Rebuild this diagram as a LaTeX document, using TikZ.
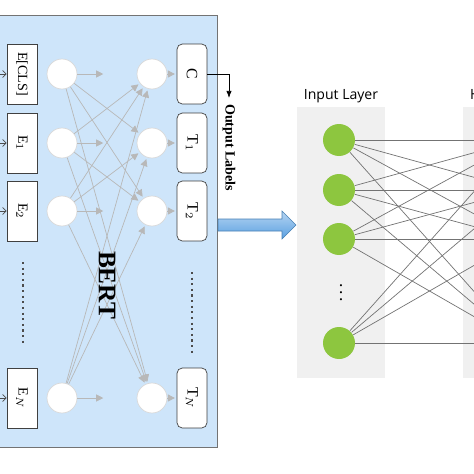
\documentclass[tikz,border=0pt]{standalone}
\usepackage{fontspec}
\setmainfont{Liberation Serif}
\setsansfont{Open Sans}
\usepackage{tikz}
\usetikzlibrary{positioning}
\usetikzlibrary{arrows.meta}
\definecolor{bertblue}{RGB}{206,229,250}
\definecolor{nngreen}{RGB}{141,198,63}
\definecolor{arrowblue}{RGB}{90,160,225}

\begin{document}
\begin{tikzpicture}[x=0.02cm,y=-0.02cm]
        \tikzstyle{token}=[draw=black!75,fill=white,rotate=-90,minimum width=1.2cm,minimum height=0.6cm,inner sep=0pt,font=\footnotesize]
        \tikzstyle{outbox}=[token,rounded corners=3pt,font=\small]
        \tikzstyle{cell}=[circle,draw=black!15,fill=white,minimum size=0.6cm,inner sep=0pt]
        \tikzstyle{green neuron}=[circle,fill=nngreen,minimum size=0.64cm,inner sep=0pt]
        \tikzstyle{light link}=[black!28,-{Triangle[length=4pt,width=4pt]},shorten >=1pt]
        \tikzstyle{net link}=[black!55,line width=0.4pt]
        \tikzstyle{annot}=[font=\sffamily\footnotesize]

        \useasboundingbox (0,0) rectangle (474,474);
        \clip (0,0) rectangle (474,474);

        % BERT panel
        \draw[fill=bertblue,draw=black!55] (-10,15) rectangle (217,447);

        % Draw the embeddings, the cells and the outputs
        \foreach \name / \y / \lab / \tlab in {1/74/{E[CLS]}/C, 2/143/{E$_1$}/{T$_1$}, 3/211/{E$_2$}/{T$_2$}, 4/398/{E$_N$}/{T$_N$}}
        {
            \node[token] (E-\name) at (22,\y) {\lab};
            \node[cell] (L-\name) at (62,\y) {};
            \node[cell] (R-\name) at (152,\y) {};
            \node[outbox] (T-\name) at (192,\y) {\tlab};
            \coordinate (In-\name) at (-4,\y);
            \coordinate (M-\name) at (105,\y);
        }

        \draw[black!70,dotted,very thick] (23,262) -- (23,346);
        \draw[black!70,dotted,very thick] (192,272) -- (192,356);

        % Connect every left cell with every right cell
        \foreach \source in {1,...,4}
            \foreach \dest in {1,...,4}
            {
                \ifnum\source=\dest
                    \draw[light link] (L-\source) -- (M-\dest);
                \else
                    \draw[light link] (L-\source) -- (R-\dest);
                \fi
            }

        \foreach \name in {1,...,4}
        {
            \draw[light link] (R-\name) -- (T-\name);
            \draw[black!70,-{Straight Barb[length=2pt]}] (In-\name) -- (E-\name);
        }

        \node[rotate=-90,font=\Large\bfseries] (bert) at (107,285) {BERT};

        % Output labels
        \node[rotate=-90,font=\footnotesize\bfseries,anchor=west] (out) at (229,98) {Output Labels};
        \draw[-{Latex[length=4pt]}] (T-1.north) -| (out.west);

        % Big arrow
        \shade[top color=arrowblue!45,bottom color=arrowblue,draw=arrowblue!80!black,line width=0.3pt]
            (218,219) -- (282,219) -- (282,211) -- (296,225) -- (282,239) -- (282,231) -- (218,231) -- cycle;

        % Layer panels
        \fill[black!6] (297,107) rectangle (385,378);
        \fill[black!6] (463,107) rectangle (550,378);
        \node[annot] (il) at (341,96) {Input Layer};
        \node[annot,anchor=west] (hl) at (464,96) {Hidden Layer};

        % Draw the input and hidden layer nodes
        \foreach \name / \y in {1/140,2/190,3/239,4/343}
        {
            \node[green neuron] (I-\name) at (339,\y) {};
            \node[green neuron] (H-\name) at (520,\y) {};
        }
        \node (dots) at (341,287) {$\vdots$};

        % Connect every node in the input layer with every node in the hidden layer
        \foreach \source in {1,...,4}
            \foreach \dest in {1,...,4}
                \draw[net link] (I-\source) -- (H-\dest);

\end{tikzpicture}
\end{document}
